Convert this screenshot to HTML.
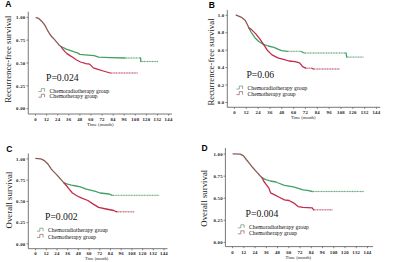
<!DOCTYPE html>
<html><head><meta charset="utf-8"><style>
html,body{margin:0;padding:0;background:#fff;width:400px;height:262px;overflow:hidden}
svg{display:block}
.tk{font-family:"Liberation Serif",serif;font-size:4.8px;font-weight:bold;fill:#222;letter-spacing:0.25px}
.tm{font-family:"Liberation Serif",serif;font-size:4.7px;fill:#222}
.yt{font-family:"Liberation Serif",serif;font-size:8.8px;fill:#222}
.pl{font-family:"Liberation Sans",sans-serif;font-size:8.5px;font-weight:bold;fill:#000}
.pv{font-family:"Liberation Serif",serif;font-size:9.7px;fill:#111}
.lg{font-family:"Liberation Serif",serif;font-size:5.7px;fill:#111}
</style></head><body>
<svg width="400" height="262" viewBox="0 0 400 262">
<rect width="400" height="262" fill="#fff"/>
<path d="M28.25 11.7V114.0H172" fill="none" stroke="#555" stroke-width="0.8"/>
<path d="M26.45 17.30H28.25" stroke="#555" stroke-width="0.7"/>
<text x="25.5" y="18.95" class="tk" text-anchor="end">1.00</text>
<path d="M26.45 40.15H28.25" stroke="#555" stroke-width="0.7"/>
<text x="25.5" y="41.80" class="tk" text-anchor="end">0.75</text>
<path d="M26.45 63.00H28.25" stroke="#555" stroke-width="0.7"/>
<text x="25.5" y="64.65" class="tk" text-anchor="end">0.50</text>
<path d="M26.45 85.85H28.25" stroke="#555" stroke-width="0.7"/>
<text x="25.5" y="87.50" class="tk" text-anchor="end">0.25</text>
<path d="M26.45 108.70H28.25" stroke="#555" stroke-width="0.7"/>
<text x="25.5" y="110.35" class="tk" text-anchor="end">0.00</text>
<path d="M35.50 114.0V115.6" stroke="#555" stroke-width="0.7"/>
<text x="35.50" y="121.00" class="tk" text-anchor="middle">0</text>
<path d="M46.59 114.0V115.6" stroke="#555" stroke-width="0.7"/>
<text x="46.59" y="121.00" class="tk" text-anchor="middle">12</text>
<path d="M57.68 114.0V115.6" stroke="#555" stroke-width="0.7"/>
<text x="57.68" y="121.00" class="tk" text-anchor="middle">24</text>
<path d="M68.77 114.0V115.6" stroke="#555" stroke-width="0.7"/>
<text x="68.77" y="121.00" class="tk" text-anchor="middle">36</text>
<path d="M79.86 114.0V115.6" stroke="#555" stroke-width="0.7"/>
<text x="79.86" y="121.00" class="tk" text-anchor="middle">48</text>
<path d="M90.95 114.0V115.6" stroke="#555" stroke-width="0.7"/>
<text x="90.95" y="121.00" class="tk" text-anchor="middle">60</text>
<path d="M102.04 114.0V115.6" stroke="#555" stroke-width="0.7"/>
<text x="102.04" y="121.00" class="tk" text-anchor="middle">72</text>
<path d="M113.13 114.0V115.6" stroke="#555" stroke-width="0.7"/>
<text x="113.13" y="121.00" class="tk" text-anchor="middle">84</text>
<path d="M124.22 114.0V115.6" stroke="#555" stroke-width="0.7"/>
<text x="124.22" y="121.00" class="tk" text-anchor="middle">96</text>
<path d="M135.31 114.0V115.6" stroke="#555" stroke-width="0.7"/>
<text x="135.31" y="121.00" class="tk" text-anchor="middle">108</text>
<path d="M146.40 114.0V115.6" stroke="#555" stroke-width="0.7"/>
<text x="146.40" y="121.00" class="tk" text-anchor="middle">120</text>
<path d="M157.49 114.0V115.6" stroke="#555" stroke-width="0.7"/>
<text x="157.49" y="121.00" class="tk" text-anchor="middle">132</text>
<path d="M168.58 114.0V115.6" stroke="#555" stroke-width="0.7"/>
<text x="168.58" y="121.00" class="tk" text-anchor="middle">144</text>
<text x="87" y="126.1" class="tm" textLength="26.5" lengthAdjust="spacingAndGlyphs">Time (month)</text>
<text transform="translate(10.7 59.2) rotate(-90)" class="yt" text-anchor="middle">Recurrence-free survival</text>
<text x="5.2" y="7.3" class="pl">A</text>
<text x="46" y="80.7" class="pv">P=0.024</text>
<path d="M38.4 91.6H41.3V88.6H44.6V91.6" fill="none" stroke="#4f8a5e" stroke-width="0.9" opacity="0.7"/>
<text x="49.5" y="92.8" class="lg">Chemoradiotherapy group</text>
<path d="M38.4 97.2H41.3V94.2H44.6V97.2" fill="none" stroke="#8a4a5a" stroke-width="0.9" opacity="0.7"/>
<text x="49.5" y="98.4" class="lg">Chemotherapy group</text>
<polyline points="61.3,46.8 63.2,47.5 66.2,49.1 69.3,50.2 73.5,51.7 77.5,52.9 79.8,54.4 85.1,54.9 94.2,55.7 98.7,57.2 110.0,57.6 125.0,58.0" fill="none" stroke="#43a062" stroke-width="1.3" stroke-linejoin="round" stroke-linecap="round"/>
<polyline points="140.6,58.0 140.8,61.5" fill="none" stroke="#43a062" stroke-width="1.3" stroke-linejoin="round" stroke-linecap="round"/>
<path d="M125.0 58.0H140.6" stroke="#43a062" stroke-width="0.8" opacity="0.6"/>
<path d="M126.0 58.0H140.6" stroke="#2f5f40" stroke-width="1.3" stroke-dasharray="0.6 2.0" opacity="0.55"/>
<path d="M140.8 61.5H158.2" stroke="#43a062" stroke-width="0.8" opacity="0.6"/>
<path d="M141.8 61.5H158.2" stroke="#2f5f40" stroke-width="1.3" stroke-dasharray="0.6 2.0" opacity="0.55"/>
<polyline points="61.3,46.8 62.4,48.7 64.7,51.4 67.0,53.6 70.0,55.6 73.1,57.5 76.2,59.7 80.5,62.0 85.9,63.6 89.6,64.1 93.4,67.9 97.2,69.1 103.3,71.0 110.2,73.0" fill="none" stroke="#c42a4a" stroke-width="1.3" stroke-linejoin="round" stroke-linecap="round"/>
<path d="M110.2 73.0H137.6" stroke="#c42a4a" stroke-width="0.8" opacity="0.6"/>
<path d="M111.2 73.0H137.6" stroke="#7a2035" stroke-width="1.3" stroke-dasharray="0.6 2.0" opacity="0.55"/>
<polyline points="35.7,17.3 39.0,18.7 41.7,21.3 43.7,23.6 45.7,26.7 47.7,30.7 49.7,34.0 52.3,37.3 54.8,39.9 57.1,42.6 59.3,45.3 61.3,46.8" fill="none" stroke="#8a5a55" stroke-width="1.3" stroke-linejoin="round"/>
<path d="M227.3 9.9V107.3H380.25" fill="none" stroke="#555" stroke-width="0.8"/>
<path d="M225.5 15.30H227.3" stroke="#555" stroke-width="0.7"/>
<text x="224.5" y="16.95" class="tk" text-anchor="end">1.0</text>
<path d="M225.5 32.74H227.3" stroke="#555" stroke-width="0.7"/>
<text x="224.5" y="34.39" class="tk" text-anchor="end">0.8</text>
<path d="M225.5 50.18H227.3" stroke="#555" stroke-width="0.7"/>
<text x="224.5" y="51.83" class="tk" text-anchor="end">0.6</text>
<path d="M225.5 67.62H227.3" stroke="#555" stroke-width="0.7"/>
<text x="224.5" y="69.27" class="tk" text-anchor="end">0.4</text>
<path d="M225.5 85.06H227.3" stroke="#555" stroke-width="0.7"/>
<text x="224.5" y="86.71" class="tk" text-anchor="end">0.2</text>
<path d="M225.5 102.50H227.3" stroke="#555" stroke-width="0.7"/>
<text x="224.5" y="104.15" class="tk" text-anchor="end">0.0</text>
<path d="M234.50 107.3V108.89999999999999" stroke="#555" stroke-width="0.7"/>
<text x="234.50" y="113.50" class="tk" text-anchor="middle">0</text>
<path d="M246.33 107.3V108.89999999999999" stroke="#555" stroke-width="0.7"/>
<text x="246.33" y="113.50" class="tk" text-anchor="middle">12</text>
<path d="M258.16 107.3V108.89999999999999" stroke="#555" stroke-width="0.7"/>
<text x="258.16" y="113.50" class="tk" text-anchor="middle">24</text>
<path d="M269.99 107.3V108.89999999999999" stroke="#555" stroke-width="0.7"/>
<text x="269.99" y="113.50" class="tk" text-anchor="middle">36</text>
<path d="M281.82 107.3V108.89999999999999" stroke="#555" stroke-width="0.7"/>
<text x="281.82" y="113.50" class="tk" text-anchor="middle">48</text>
<path d="M293.65 107.3V108.89999999999999" stroke="#555" stroke-width="0.7"/>
<text x="293.65" y="113.50" class="tk" text-anchor="middle">60</text>
<path d="M305.48 107.3V108.89999999999999" stroke="#555" stroke-width="0.7"/>
<text x="305.48" y="113.50" class="tk" text-anchor="middle">72</text>
<path d="M317.31 107.3V108.89999999999999" stroke="#555" stroke-width="0.7"/>
<text x="317.31" y="113.50" class="tk" text-anchor="middle">84</text>
<path d="M329.14 107.3V108.89999999999999" stroke="#555" stroke-width="0.7"/>
<text x="329.14" y="113.50" class="tk" text-anchor="middle">96</text>
<path d="M340.97 107.3V108.89999999999999" stroke="#555" stroke-width="0.7"/>
<text x="340.97" y="113.50" class="tk" text-anchor="middle">108</text>
<path d="M352.80 107.3V108.89999999999999" stroke="#555" stroke-width="0.7"/>
<text x="352.80" y="113.50" class="tk" text-anchor="middle">120</text>
<path d="M364.63 107.3V108.89999999999999" stroke="#555" stroke-width="0.7"/>
<text x="364.63" y="113.50" class="tk" text-anchor="middle">132</text>
<path d="M376.46 107.3V108.89999999999999" stroke="#555" stroke-width="0.7"/>
<text x="376.46" y="113.50" class="tk" text-anchor="middle">144</text>
<text x="291" y="119.2" class="tm" textLength="24.5" lengthAdjust="spacingAndGlyphs">Time (month)</text>
<text transform="translate(214.0 62.0) rotate(-90)" class="yt" text-anchor="middle">Recurrence-free survival</text>
<text x="208.7" y="7.7" class="pl">B</text>
<text x="246.4" y="77.6" class="pv">P=0.06</text>
<path d="M236.4 89.0H239.3V86.0H242.6V89.0" fill="none" stroke="#4f8a5e" stroke-width="0.9" opacity="0.7"/>
<text x="247.5" y="90.2" class="lg">Chemoradiotherapy group</text>
<path d="M236.4 94.6H239.3V91.6H242.6V94.6" fill="none" stroke="#8a4a5a" stroke-width="0.9" opacity="0.7"/>
<text x="247.5" y="95.8" class="lg">Chemotherapy group</text>
<polyline points="249.1,28.2 251.0,32.0 254.9,37.7 258.7,41.5 263.5,44.4 268.2,46.0 274.0,47.3 277.8,49.2 281.6,50.7 287.5,51.3" fill="none" stroke="#43a062" stroke-width="1.3" stroke-linejoin="round" stroke-linecap="round"/>
<polyline points="301.1,51.5 304.2,53.0" fill="none" stroke="#43a062" stroke-width="1.3" stroke-linejoin="round" stroke-linecap="round"/>
<polyline points="346.0,53.0 346.8,57.1" fill="none" stroke="#43a062" stroke-width="1.3" stroke-linejoin="round" stroke-linecap="round"/>
<path d="M287.5 51.3H301.1" stroke="#43a062" stroke-width="0.8" opacity="0.6"/>
<path d="M288.5 51.3H301.1" stroke="#2f5f40" stroke-width="1.3" stroke-dasharray="0.6 2.0" opacity="0.55"/>
<path d="M304.2 53.0H346.0" stroke="#43a062" stroke-width="0.8" opacity="0.6"/>
<path d="M305.2 53.0H346.0" stroke="#2f5f40" stroke-width="1.3" stroke-dasharray="0.6 2.0" opacity="0.55"/>
<path d="M346.8 57.1H363.6" stroke="#43a062" stroke-width="0.8" opacity="0.6"/>
<path d="M347.8 57.1H363.6" stroke="#2f5f40" stroke-width="1.3" stroke-dasharray="0.6 2.0" opacity="0.55"/>
<polyline points="249.1,28.2 251.0,29.1 255.8,33.9 259.6,38.7 263.5,44.4 267.3,50.2 272.0,54.9 277.8,57.8 283.5,59.3 289.0,61.0 295.1,61.7 299.6,62.9 302.6,66.7 305.7,68.2" fill="none" stroke="#c42a4a" stroke-width="1.3" stroke-linejoin="round" stroke-linecap="round"/>
<polyline points="311.8,68.2 313.3,69.0" fill="none" stroke="#c42a4a" stroke-width="1.3" stroke-linejoin="round" stroke-linecap="round"/>
<path d="M305.7 68.2H311.8" stroke="#c42a4a" stroke-width="0.8" opacity="0.6"/>
<path d="M306.7 68.2H311.8" stroke="#7a2035" stroke-width="1.3" stroke-dasharray="0.6 2.0" opacity="0.55"/>
<path d="M313.3 69.0H340.0" stroke="#c42a4a" stroke-width="0.8" opacity="0.6"/>
<path d="M314.3 69.0H340.0" stroke="#7a2035" stroke-width="1.3" stroke-dasharray="0.6 2.0" opacity="0.55"/>
<polyline points="235.7,14.8 241.5,17.3 245.3,20.5 247.2,24.3 249.1,28.2" fill="none" stroke="#8a5a55" stroke-width="1.3" stroke-linejoin="round"/>
<path d="M28.3 153.5V248.7H167.5" fill="none" stroke="#555" stroke-width="0.8"/>
<path d="M26.5 158.90H28.3" stroke="#555" stroke-width="0.7"/>
<text x="25.5" y="160.55" class="tk" text-anchor="end">1.00</text>
<path d="M26.5 180.15H28.3" stroke="#555" stroke-width="0.7"/>
<text x="25.5" y="181.80" class="tk" text-anchor="end">0.75</text>
<path d="M26.5 201.40H28.3" stroke="#555" stroke-width="0.7"/>
<text x="25.5" y="203.05" class="tk" text-anchor="end">0.50</text>
<path d="M26.5 222.65H28.3" stroke="#555" stroke-width="0.7"/>
<text x="25.5" y="224.30" class="tk" text-anchor="end">0.25</text>
<path d="M26.5 243.90H28.3" stroke="#555" stroke-width="0.7"/>
<text x="25.5" y="245.55" class="tk" text-anchor="end">0.00</text>
<path d="M35.60 248.7V250.29999999999998" stroke="#555" stroke-width="0.7"/>
<text x="35.60" y="255.30" class="tk" text-anchor="middle">0</text>
<path d="M46.30 248.7V250.29999999999998" stroke="#555" stroke-width="0.7"/>
<text x="46.30" y="255.30" class="tk" text-anchor="middle">12</text>
<path d="M57.00 248.7V250.29999999999998" stroke="#555" stroke-width="0.7"/>
<text x="57.00" y="255.30" class="tk" text-anchor="middle">24</text>
<path d="M67.70 248.7V250.29999999999998" stroke="#555" stroke-width="0.7"/>
<text x="67.70" y="255.30" class="tk" text-anchor="middle">36</text>
<path d="M78.40 248.7V250.29999999999998" stroke="#555" stroke-width="0.7"/>
<text x="78.40" y="255.30" class="tk" text-anchor="middle">48</text>
<path d="M89.10 248.7V250.29999999999998" stroke="#555" stroke-width="0.7"/>
<text x="89.10" y="255.30" class="tk" text-anchor="middle">60</text>
<path d="M99.80 248.7V250.29999999999998" stroke="#555" stroke-width="0.7"/>
<text x="99.80" y="255.30" class="tk" text-anchor="middle">72</text>
<path d="M110.50 248.7V250.29999999999998" stroke="#555" stroke-width="0.7"/>
<text x="110.50" y="255.30" class="tk" text-anchor="middle">84</text>
<path d="M121.20 248.7V250.29999999999998" stroke="#555" stroke-width="0.7"/>
<text x="121.20" y="255.30" class="tk" text-anchor="middle">96</text>
<path d="M131.90 248.7V250.29999999999998" stroke="#555" stroke-width="0.7"/>
<text x="131.90" y="255.30" class="tk" text-anchor="middle">108</text>
<path d="M142.60 248.7V250.29999999999998" stroke="#555" stroke-width="0.7"/>
<text x="142.60" y="255.30" class="tk" text-anchor="middle">120</text>
<path d="M153.30 248.7V250.29999999999998" stroke="#555" stroke-width="0.7"/>
<text x="153.30" y="255.30" class="tk" text-anchor="middle">132</text>
<path d="M164.00 248.7V250.29999999999998" stroke="#555" stroke-width="0.7"/>
<text x="164.00" y="255.30" class="tk" text-anchor="middle">144</text>
<text x="85" y="260.1" class="tm" textLength="23.2" lengthAdjust="spacingAndGlyphs">Time (month)</text>
<text transform="translate(11.7 200) rotate(-90)" class="yt" text-anchor="middle">Overall survival</text>
<text x="6.3" y="151.5" class="pl">C</text>
<text x="45" y="220" class="pv">P=0.002</text>
<path d="M36.9 231.2H39.8V228.2H43.1V231.2" fill="none" stroke="#4f8a5e" stroke-width="0.9" opacity="0.7"/>
<text x="48.0" y="232.39999999999998" class="lg">Chemoradiotherapy group</text>
<path d="M36.9 237.4H39.8V234.4H43.1V237.4" fill="none" stroke="#8a4a5a" stroke-width="0.9" opacity="0.7"/>
<text x="48.0" y="238.6" class="lg">Chemotherapy group</text>
<polyline points="63.9,182.8 67.6,184.2 71.3,185.1 76.0,186.0 80.3,186.8 86.4,189.1 95.5,191.4 100.0,193.0 109.2,194.0 112.2,195.3" fill="none" stroke="#43a062" stroke-width="1.3" stroke-linejoin="round" stroke-linecap="round"/>
<path d="M112.2 195.3H159.4" stroke="#43a062" stroke-width="0.8" opacity="0.6"/>
<path d="M113.2 195.3H159.4" stroke="#2f5f40" stroke-width="1.3" stroke-dasharray="0.6 2.0" opacity="0.55"/>
<polyline points="63.9,182.8 66.7,186.0 69.4,189.3 72.4,193.0 77.2,196.0 81.8,198.2 87.9,200.5 92.5,203.6 98.6,207.4 106.1,209.0 113.7,210.5 116.8,211.8" fill="none" stroke="#c42a4a" stroke-width="1.3" stroke-linejoin="round" stroke-linecap="round"/>
<path d="M116.8 211.8H134.4" stroke="#c42a4a" stroke-width="0.8" opacity="0.6"/>
<path d="M117.8 211.8H134.4" stroke="#7a2035" stroke-width="1.3" stroke-dasharray="0.6 2.0" opacity="0.55"/>
<polyline points="35.3,158.4 40.7,158.9 44.5,160.7 47.6,163.7 51.4,169.1 52.9,170.9 56.6,174.6 60.3,178.7 63.0,181.9 63.9,182.8" fill="none" stroke="#8a5a55" stroke-width="1.3" stroke-linejoin="round"/>
<path d="M225.4 148V246.6H373" fill="none" stroke="#555" stroke-width="0.8"/>
<path d="M223.6 154.10H225.4" stroke="#555" stroke-width="0.7"/>
<text x="222.8" y="155.75" class="tk" text-anchor="end">1.00</text>
<path d="M223.6 176.17H225.4" stroke="#555" stroke-width="0.7"/>
<text x="222.8" y="177.82" class="tk" text-anchor="end">0.75</text>
<path d="M223.6 198.24H225.4" stroke="#555" stroke-width="0.7"/>
<text x="222.8" y="199.89" class="tk" text-anchor="end">0.50</text>
<path d="M223.6 220.31H225.4" stroke="#555" stroke-width="0.7"/>
<text x="222.8" y="221.96" class="tk" text-anchor="end">0.25</text>
<path d="M223.6 242.38H225.4" stroke="#555" stroke-width="0.7"/>
<text x="222.8" y="244.03" class="tk" text-anchor="end">0.00</text>
<path d="M232.60 246.6V248.2" stroke="#555" stroke-width="0.7"/>
<text x="232.60" y="253.70" class="tk" text-anchor="middle">0</text>
<path d="M243.84 246.6V248.2" stroke="#555" stroke-width="0.7"/>
<text x="243.84" y="253.70" class="tk" text-anchor="middle">12</text>
<path d="M255.08 246.6V248.2" stroke="#555" stroke-width="0.7"/>
<text x="255.08" y="253.70" class="tk" text-anchor="middle">24</text>
<path d="M266.32 246.6V248.2" stroke="#555" stroke-width="0.7"/>
<text x="266.32" y="253.70" class="tk" text-anchor="middle">36</text>
<path d="M277.56 246.6V248.2" stroke="#555" stroke-width="0.7"/>
<text x="277.56" y="253.70" class="tk" text-anchor="middle">48</text>
<path d="M288.80 246.6V248.2" stroke="#555" stroke-width="0.7"/>
<text x="288.80" y="253.70" class="tk" text-anchor="middle">60</text>
<path d="M300.04 246.6V248.2" stroke="#555" stroke-width="0.7"/>
<text x="300.04" y="253.70" class="tk" text-anchor="middle">72</text>
<path d="M311.28 246.6V248.2" stroke="#555" stroke-width="0.7"/>
<text x="311.28" y="253.70" class="tk" text-anchor="middle">84</text>
<path d="M322.52 246.6V248.2" stroke="#555" stroke-width="0.7"/>
<text x="322.52" y="253.70" class="tk" text-anchor="middle">96</text>
<path d="M333.76 246.6V248.2" stroke="#555" stroke-width="0.7"/>
<text x="333.76" y="253.70" class="tk" text-anchor="middle">108</text>
<path d="M345.00 246.6V248.2" stroke="#555" stroke-width="0.7"/>
<text x="345.00" y="253.70" class="tk" text-anchor="middle">120</text>
<path d="M356.24 246.6V248.2" stroke="#555" stroke-width="0.7"/>
<text x="356.24" y="253.70" class="tk" text-anchor="middle">132</text>
<path d="M367.48 246.6V248.2" stroke="#555" stroke-width="0.7"/>
<text x="367.48" y="253.70" class="tk" text-anchor="middle">144</text>
<text x="285.5" y="258.6" class="tm" textLength="25.5" lengthAdjust="spacingAndGlyphs">Time (month)</text>
<text transform="translate(206.8 198.2) rotate(-90)" class="yt" text-anchor="middle">Overall survival</text>
<text x="201.4" y="151.0" class="pl">D</text>
<text x="245.6" y="217.3" class="pv">P=0.004</text>
<path d="M237.9 227.8H240.8V224.8H244.1V227.8" fill="none" stroke="#4f8a5e" stroke-width="0.9" opacity="0.7"/>
<text x="249.0" y="229.0" class="lg">Chemoradiotherapy group</text>
<path d="M237.9 233.8H240.8V230.8H244.1V233.8" fill="none" stroke="#8a4a5a" stroke-width="0.9" opacity="0.7"/>
<text x="249.0" y="235.0" class="lg">Chemotherapy group</text>
<polyline points="262.1,177.8 265.8,179.7 270.3,181.0 276.0,182.0 278.3,183.0 284.4,185.3 293.5,186.8 303.0,189.8 307.6,190.4 312.2,191.5" fill="none" stroke="#43a062" stroke-width="1.3" stroke-linejoin="round" stroke-linecap="round"/>
<path d="M312.2 191.5H364.0" stroke="#43a062" stroke-width="0.8" opacity="0.6"/>
<path d="M313.2 191.5H364.0" stroke="#2f5f40" stroke-width="1.3" stroke-dasharray="0.6 2.0" opacity="0.55"/>
<polyline points="262.1,177.8 263.9,181.5 266.7,185.2 269.0,188.4 270.6,192.9 273.7,194.4 279.8,197.5 284.4,199.8 289.0,200.5 293.5,202.8 298.1,206.6 303.0,207.4 312.2,207.8 313.7,209.8" fill="none" stroke="#c42a4a" stroke-width="1.3" stroke-linejoin="round" stroke-linecap="round"/>
<path d="M313.7 209.8H332.8" stroke="#c42a4a" stroke-width="0.8" opacity="0.6"/>
<path d="M314.7 209.8H332.8" stroke="#7a2035" stroke-width="1.3" stroke-dasharray="0.6 2.0" opacity="0.55"/>
<polyline points="232.6,153.8 240.2,154.1 243.3,155.6 246.3,159.5 249.4,163.3 252.9,167.8 256.6,171.9 260.3,176.0 262.1,177.8" fill="none" stroke="#8a5a55" stroke-width="1.3" stroke-linejoin="round"/>
</svg>
</body></html>
